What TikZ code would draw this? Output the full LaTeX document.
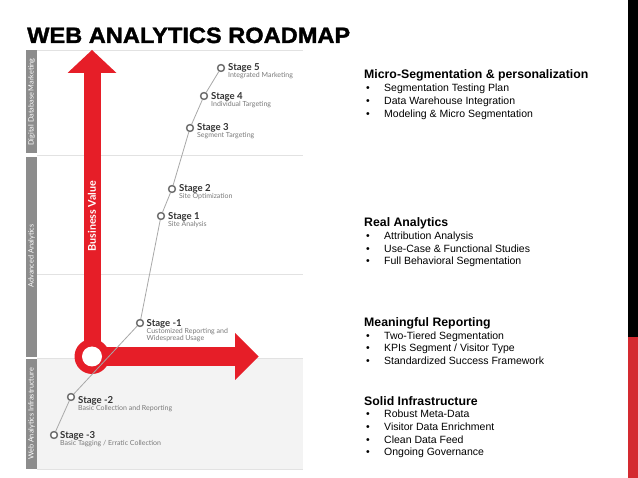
\documentclass[tikz,border=0pt]{standalone}
\usepackage{fontspec}
\usepackage{graphicx}
\setmainfont{Liberation Sans}
\newfontfamily\lato{Lato}
\newfontfamily\heavyfont[FakeBold=1.5]{Liberation Sans}
\definecolor{arrowred}{HTML}{E61E28}
\definecolor{edgered}{HTML}{D42A30}
\definecolor{barGray}{HTML}{8C8C8C}
\definecolor{sepGray}{HTML}{E2E2E2}
\definecolor{zoneGray}{HTML}{F3F3F3}
\definecolor{lineGray}{HTML}{A8A8A8}
\definecolor{dotGray}{HTML}{6E6E6E}
\definecolor{stageText}{HTML}{333333}
\definecolor{subText}{HTML}{7A7A7A}
\begin{document}
\begin{tikzpicture}[x=1pt,y=-1pt,
  sidelabel/.style={rotate=90, text=white, font=\lato\fontsize{7.3}{8}\selectfont, inner sep=0},
  stagedot/.style={circle, draw=dotGray, line width=1.2pt, fill=white, minimum size=7pt, inner sep=0},
  stagename/.style={anchor=base west, inner sep=0, text=stageText, font=\lato\bfseries\fontsize{9.6}{10}\selectfont},
  stagesub/.style={anchor=base west, inner sep=0, text=subText, font=\lato\fontsize{7}{7.5}\selectfont},
  headtext/.style={anchor=base west, inner sep=0, font=\bfseries\fontsize{12.3}{14}\selectfont},
  itemtext/.style={anchor=base west, inner sep=0, font=\fontsize{10.5}{12}\selectfont},
  bullettext/.style={anchor=base, inner sep=0, font=\fontsize{10.5}{12}\selectfont},
]
\useasboundingbox (0,0) rectangle (638,478);
\fill[white] (0,0) rectangle (638,478);

% right edge bars
\fill[black] (628,0) rectangle (638,337);
\fill[edgered] (628,337) rectangle (638,478);

% title
\node[anchor=base west, inner sep=0] (title) at (27,43)
  {\resizebox{323pt}{15.5pt}{\heavyfont\bfseries WEB ANALYTICS ROADMAP}};

% chart zones
\fill[zoneGray] (37,358) rectangle (303,469);
\draw[sepGray, line width=0.9pt] (37,50) -- (303,50);
\draw[sepGray, line width=0.9pt] (37,155) -- (303,155);
\draw[sepGray, line width=0.9pt] (37,274) -- (303,274);
\draw[sepGray, line width=0.9pt] (37,358) -- (303,358);
\draw[sepGray, line width=0.9pt] (37,469) -- (303,469);

% side bars
\fill[barGray] (26,50) rectangle (37,153);
\fill[barGray] (26,157) rectangle (37,357);
\fill[barGray] (26,359) rectangle (37,469);
\node[sidelabel] (lab1) at (31.5,102) {Digital Database Marketing};
\node[sidelabel] (lab2) at (31.5,256) {Advanced Analytics};
\node[sidelabel] (lab3) at (31.5,414) {Web Analytics Infrastructure};

% red arrow
\fill[arrowred] (83.5,72) rectangle (100.5,356);
\fill[arrowred] (67.5,73) -- (92,50) -- (116.5,73) -- cycle;
\fill[arrowred] (92,347) rectangle (236,366);
\fill[arrowred] (235,333) -- (258.5,356.5) -- (235,380) -- cycle;
\fill[arrowred] (92,356.5) circle (17.5);
\fill[white] (92,356.5) circle (10);
\node[rotate=90, text=white, inner sep=0, font=\lato\bfseries\fontsize{10.7}{12}\selectfont] (bv) at (92,216) {Business Value};

% stage dots
\node[stagedot] (s5) at (221,68) {};
\node[stagedot] (s4) at (204,96) {};
\node[stagedot] (s3) at (190,128) {};
\node[stagedot] (s2) at (172,189) {};
\node[stagedot] (s1) at (161,216) {};
\node[stagedot] (sm1) at (140,323) {};
\node[stagedot] (sm2) at (71,397) {};
\node[stagedot] (sm3) at (54,435) {};
\draw[lineGray, line width=0.8pt] (sm3) -- (sm2) -- (sm1) -- (s1) -- (s2) -- (s3) -- (s4) -- (s5);
\foreach \n in {s5,s4,s3,s2,s1,sm1,sm2,sm3}
  \draw[dotGray, line width=1.2pt, fill=white] (\n.center) circle (3.3);

% stage labels
\node[stagename] (n5) at (228,71) {Stage 5};
\node[stagesub] (d5) at (228,77.5) {Integrated Marketing};
\node[stagename] (n4) at (211,99.3) {Stage 4};
\node[stagesub] (d4) at (211,106.5) {Individual Targeting};
\node[stagename] (n3) at (197,131) {Stage 3};
\node[stagesub] (d3) at (197,138) {Segment Targeting};
\node[stagename] (n2) at (179,192) {Stage 2};
\node[stagesub] (d2) at (179,199) {Site Optimization};
\node[stagename] (n1) at (168,219.5) {Stage 1};
\node[stagesub] (d1) at (168,226.7) {Site Analysis};
\node[stagename] (nm1) at (146.5,326.5) {Stage -1};
\node[stagesub] (dm1a) at (146.5,333.3) {Customized Reporting and};
\node[stagesub] (dm1b) at (146.5,340.3) {Widespread Usage};
\node[stagename] (nm2) at (78,403.5) {Stage -2};
\node[stagesub] (dm2) at (78,410.3) {Basic Collection and Reporting};
\node[stagename] (nm3) at (60,439) {Stage -3};
\node[stagesub] (dm3) at (60,446) {Basic Tagging / Erratic Collection};

% right-hand text
\node[headtext] (h1) at (364,79) {Micro-Segmentation \& personalization};
\node[bullettext] (b11) at (368,92) {•};
\node[itemtext] (i11) at (384,92) {Segmentation Testing Plan};
\node[bullettext] (b12) at (368,105) {•};
\node[itemtext] (i12) at (384,105) {Data Warehouse Integration};
\node[bullettext] (b13) at (368,118) {•};
\node[itemtext] (i13) at (384,118) {Modeling \& Micro Segmentation};

\node[headtext] (h2) at (364,227) {Real Analytics};
\node[bullettext] (b21) at (368,239.5) {•};
\node[itemtext] (i21) at (384,239.5) {Attribution Analysis};
\node[bullettext] (b22) at (368,252.3) {•};
\node[itemtext] (i22) at (384,252.3) {Use-Case \& Functional Studies};
\node[bullettext] (b23) at (368,265) {•};
\node[itemtext] (i23) at (384,265) {Full Behavioral Segmentation};

\node[headtext] (h3) at (364,326.7) {Meaningful Reporting};
\node[bullettext] (b31) at (368,339.3) {•};
\node[itemtext] (i31) at (384,339.3) {Two-Tiered Segmentation};
\node[bullettext] (b32) at (368,351.8) {•};
\node[itemtext] (i32) at (384,351.8) {KPIs Segment / Visitor Type};
\node[bullettext] (b33) at (368,364.3) {•};
\node[itemtext] (i33) at (384,364.3) {Standardized Success Framework};

\node[headtext] (h4) at (364,406) {Solid Infrastructure};
\node[bullettext] (b41) at (368,418) {•};
\node[itemtext] (i41) at (384,418) {Robust Meta-Data};
\node[bullettext] (b42) at (368,430.7) {•};
\node[itemtext] (i42) at (384,430.7) {Visitor Data Enrichment};
\node[bullettext] (b43) at (368,443.3) {•};
\node[itemtext] (i43) at (384,443.3) {Clean Data Feed};
\node[bullettext] (b44) at (368,456) {•};
\node[itemtext] (i44) at (384,456) {Ongoing Governance};
\end{tikzpicture}
\end{document}
